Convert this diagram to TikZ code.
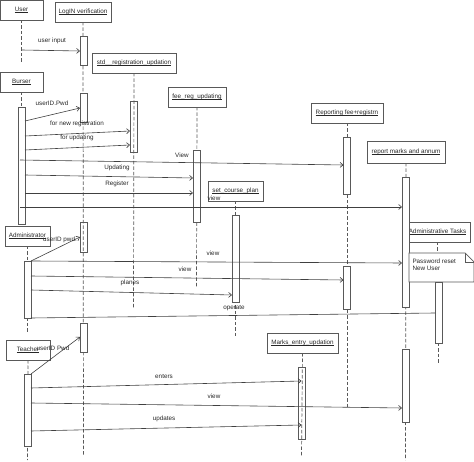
\documentclass[tikz,border=0pt]{standalone}
\usepackage{fontspec}
\setmainfont{Liberation Sans}
\usetikzlibrary{arrows.meta,backgrounds}
\newcommand{\ulx}[1]{\setbox0\hbox{#1}\rlap{\rule[-1pt]{\wd0}{0.4pt}}\box0}
\begin{document}
\begin{tikzpicture}[x=1pt,y=-1pt,
  every node/.style={font=\fontsize{6.3}{7.4}\selectfont, text=black!85, inner sep=0pt, outer sep=0pt},
  obj/.style={draw=black!65, fill=white, line width=0.7pt},
  act/.style={draw=black!65, fill=white, line width=0.7pt, minimum width=7pt},
  actT/.style={draw=black!65, line width=0.7pt, minimum width=7pt},
  life/.style={draw=black!65, dash pattern=on 3.5pt off 2pt, line width=0.7pt},
  msg/.style={draw=black!75, line width=0.6pt, -{Straight Barb[length=3pt,width=5pt]}},
  plain/.style={draw=black!75, line width=0.6pt}]
\useasboundingbox (0,0) rectangle (474,462);

% ---------- object boxes ----------
\node[obj, minimum width=43pt, minimum height=20pt] (user) at (21.5,10) {\ulx{User}};
\node[obj, minimum width=56pt, minimum height=20pt] (login) at (83,12) {\ulx{LogIN verification}};
\node[obj, minimum width=84pt, minimum height=20pt] (std) at (134,63) {\ulx{std\_\_registration\_updation}};
\node[obj, minimum width=43pt, minimum height=20pt] (burser) at (21.5,82) {\ulx{Burser}};
\node[obj, minimum width=58pt, minimum height=20pt] (fee) at (197,97) {\ulx{fee\_reg\_updating}};
\node[obj, minimum width=72pt, minimum height=20pt] (rep) at (347,113) {\ulx{Reporting fee+registrn}};
\node[obj, minimum width=78pt, minimum height=22pt] (rma) at (406,152) {\ulx{report marks and annum}};
\node[obj, minimum width=55pt, minimum height=20pt] (scp) at (235.5,191) {\ulx{set\_course\_plan}};
\node[obj, minimum width=45pt, minimum height=20pt] (admin) at (27.5,236) {\ulx{Administrator}};
\node[obj, minimum width=65pt, minimum height=20pt] (at) at (437.5,232) {\ulx{Administrative Tasks}};
\node[obj, minimum width=44pt, minimum height=20pt] (teacher) at (28,350) {\ulx{Teacher}};
\node[obj, minimum width=71pt, minimum height=20pt] (marks) at (302.5,343) {\ulx{Marks\_entry\_updation}};

% ---------- activations ----------
\node[act, minimum height=29pt] (loginA1) at (83.5,50.5) {};
\node[act, minimum height=29pt] (loginA2) at (83.5,107.5) {};
\node[actT, minimum height=30pt] (loginA3) at (83.5,237) {};
\node[act, minimum height=29pt] (loginA4) at (83.5,337.5) {};
\node[act, minimum height=117pt] (burA) at (21.5,165.5) {};
\node[actT, minimum height=51pt] (stdA) at (133.5,126.5) {};
\node[act, minimum height=72pt] (feeA) at (196.5,186) {};
\node[act, minimum height=57pt] (repA1) at (347,165.5) {};
\node[act, minimum height=43pt] (repA2) at (347,287.5) {};
\node[act, minimum height=130pt] (rmaA1) at (405.5,242) {};
\node[act, minimum height=73pt] (rmaA2) at (405.5,385.5) {};
\node[act, minimum height=87pt] (scpA) at (235.5,258.5) {};
\node[act, minimum height=57pt] (adminA) at (27.5,289.5) {};
\node[act, minimum height=61pt] (atA) at (438.5,312.5) {};
\node[act, minimum height=72pt] (teachA) at (27.5,410) {};
\node[actT, minimum height=72pt] (marksA) at (301.5,403) {};

% ---------- note ----------
\node[minimum width=65pt, minimum height=29pt] (note) at (441.5,267.5) {};
\draw[obj] (note.north west) -- ([xshift=-9pt]note.north east) -- ([yshift=-9pt]note.north east)
  -- (note.south east) -- (note.south west) -- cycle;
\draw[draw=black!65, line width=0.7pt] ([xshift=-9pt]note.north east) -- ([xshift=-9pt,yshift=-9pt]note.north east) -- ([yshift=-9pt]note.north east);
\node[anchor=north west, align=left] (notetext) at (412.5,258.5) {Password reset\\New User};

% ---------- lifeline ends ----------
\coordinate (userE) at (21.5,63);
\coordinate (loginE) at (83.5,455);
\coordinate (stdE) at (133.5,308);
\coordinate (feeE) at (196.5,288);
\coordinate (repE) at (347,407);
\coordinate (rmaE) at (405.5,460);
\coordinate (scpE) at (235.5,338);
\coordinate (adminE) at (27.5,333);
\coordinate (atE) at (438.5,363);
\coordinate (teachE) at (27.5,460);
\coordinate (marksE) at (301.5,457);

\begin{pgfonlayer}{background}
\draw[life] (user.south) -- (userE);
\draw[life] (login.south) -- (loginE);
\draw[life] (std.south) -- (stdE);
\draw[life] (burser.south) -- (burA.north);
\draw[life] (fee.south) -- (feeE);
\draw[life] (rep.south) -- (repE);
\draw[life] (rma.south) -- (rmaE);
\draw[life] (scp.south) -- (scpE);
\draw[life] (admin.south) -- (adminE);
\draw[life] (at.south) -- (note.north -| at.south);
\draw[life] (atA.south) -- (atE);
\draw[life] (teacher.south) -- (teachE);
\draw[life] (marks.south) -- (marksE);
\end{pgfonlayer}

% ---------- messages ----------
\coordinate (m1s) at (21.5,50); \coordinate (m1e) at (loginA1.west |- 0,51);
\draw[msg] (m1s) -- (m1e);
\node (l1) at (52,41) {user input};

\coordinate (m2s) at (burA.east |- 0,121); \coordinate (m2e) at (loginA2.west |- 0,108);
\draw[msg] (m2s) -- (m2e);
\node (l2) at (52,103) {userID.Pwd};

\coordinate (m3s) at (burA.east |- 0,136); \coordinate (m3e) at (stdA.west |- 0,131);
\draw[msg] (m3s) -- (m3e);
\node (l3) at (77,124) {for new registration};

\coordinate (m4s) at (burA.east |- 0,150); \coordinate (m4e) at (stdA.west |- 0,145);
\draw[msg] (m4s) -- (m4e);
\node (l4) at (77,138) {for updating};

\coordinate (m5s) at (20,160); \coordinate (m5e) at (repA1.west |- 0,165);
\draw[msg] (m5s) -- (m5e);
\node (l5) at (182,155) {View};

\coordinate (m6s) at (burA.east |- 0,175); \coordinate (m6e) at (feeA.west |- 0,178);
\draw[msg] (m6s) -- (m6e);
\node (l6) at (117,168) {Updating};

\coordinate (m7s) at (burA.east |- 0,193); \coordinate (m7e) at (feeA.west |- 0,193);
\draw[msg] (m7s) -- (m7e);
\node (l7) at (117,184) {Register};

\coordinate (m8s) at (20,207); \coordinate (m8e) at (rmaA1.west |- 0,207);
\draw[msg] (m8s) -- (m8e);
\node (l8) at (214,198.5) {view};

\coordinate (m9s) at (adminA.north east) ; \coordinate (m9e) at (loginA3.west |- 0,237);
\draw[msg] (m9s) -- (m9e);
\node (l9) at (60,240) {userID pwd.};

\coordinate (m10s) at (adminA.east |- 0,261); \coordinate (m10e) at (rmaA1.west |- 0,263);
\draw[msg] (m10s) -- (m10e);
\node (l10) at (213,253) {view};

\coordinate (m11s) at (adminA.east |- 0,276); \coordinate (m11e) at (repA2.west |- 0,280);
\draw[msg] (m11s) -- (m11e);
\node (l11) at (185,269) {view};

\coordinate (m12s) at (adminA.east |- 0,290); \coordinate (m12e) at (scpA.west |- 0,295);
\draw[msg] (m12s) -- (m12e);
\node (l12) at (130,283) {planes};

\coordinate (m13s) at (adminA.east |- 0,318); \coordinate (m13e) at (atA.west |- 0,313);
\draw[plain] (m13s) -- (m13e);
\node (l13) at (234,308) {operate};

\coordinate (m14s) at (teachA.north east); \coordinate (m14e) at (loginA4.west |- 0,337);
\draw[msg] (m14s) -- (m14e);
\node (l14) at (53,348) {userID Pwd};

\coordinate (m15s) at (teachA.east |- 0,388); \coordinate (m15e) at (marksA.center |- 0,381);
\draw[msg] (m15s) -- (m15e);
\node (l15) at (164,376) {enters};

\coordinate (m16s) at (teachA.east |- 0,403); \coordinate (m16e) at (rmaA2.west |- 0,408);
\draw[msg] (m16s) -- (m16e);
\node (l16) at (214,396) {view};

\coordinate (m17s) at (teachA.east |- 0,431); \coordinate (m17e) at (marksA.center |- 0,425);
\draw[msg] (m17s) -- (m17e);
\node (l17) at (164,419) {updates};
\end{tikzpicture}
\end{document}
